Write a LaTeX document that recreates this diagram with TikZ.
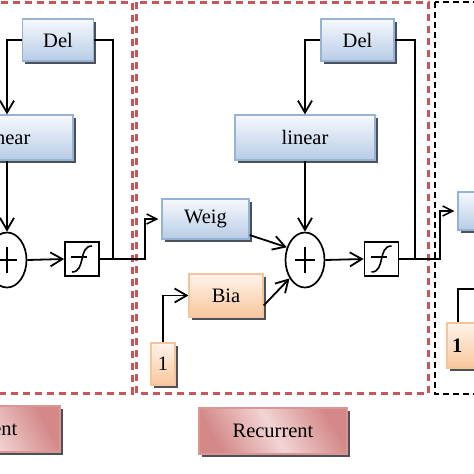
\documentclass[tikz,border=0pt]{standalone}
\usepackage{fontspec}
\setmainfont{Liberation Serif}
\usetikzlibrary{arrows.meta,shadows,shapes.geometric}
\definecolor{bluebd}{HTML}{95B3D7}
\definecolor{bluetop}{HTML}{F6F9FD}
\definecolor{bluebot}{HTML}{B8CCE6}
\definecolor{orbd}{HTML}{F5C49A}
\definecolor{ortop}{HTML}{FEF3EA}
\definecolor{orbot}{HTML}{F9C79D}
\definecolor{pinkbd}{HTML}{D99694}
\definecolor{pinklt}{HTML}{F2D4D4}
\definecolor{pinkdk}{HTML}{D48888}
\definecolor{reddash}{HTML}{C5565A}
\definecolor{shad}{HTML}{4B5059}
\begin{document}
\begin{tikzpicture}[x=1pt,y=-1pt,
  font=\fontsize{20.5}{24}\selectfont,
  shd/.style={drop shadow={shadow xshift=2.5pt,shadow yshift=-3pt,fill=shad,opacity=1}},
  bbox/.style={draw=bluebd,line width=1.2pt,top color=bluetop,bottom color=bluebot,shd,inner sep=0pt},
  obox/.style={draw=orbd,line width=1.2pt,top color=ortop,bottom color=orbot,shd,inner sep=0pt},
  pbox/.style={draw=pinkbd,line width=1.2pt,left color=pinkdk,right color=pinkdk,middle color=pinklt,shading angle=120,shd,inner sep=0pt},
  sumnode/.style={draw,ellipse,line width=1.7pt,minimum width=39pt,minimum height=55pt,inner sep=0pt},
  actnode/.style={draw,line width=1.7pt,minimum size=34pt,inner sep=0pt},
  arr/.style={line width=1.8pt,-{Straight Barb[length=12pt,width=14pt,line width=1.8pt]}},
  fb/.style={line width=1.9pt,-{Straight Barb[length=10pt,width=10pt,line width=1.6pt]},shorten >=3pt},
  thinln/.style={line width=1.5pt},
  redpanel/.style={draw=reddash,line width=3pt,dash pattern=on 7pt off 5pt},
  blkpanel/.style={draw=black,line width=1.6pt,dash pattern=on 6pt off 4pt}
]
\useasboundingbox (0,0) rectangle (474,474);
\clip (0,0) rectangle (474,474);
\fill[white] (0,0) rectangle (474,474);

% panels
\draw[redpanel] (-30,2) rectangle (132,393);
\draw[redpanel] (136,2) rectangle (428.5,393);
\draw[blkpanel] (435,2) rectangle (500,394);

% left panel
\node[bbox,minimum width=71pt,minimum height=42pt] (del1) at (58,40) {Del};
\node[bbox,minimum width=132pt,minimum height=45pt] (lin1) at (7,137.5) {linear};
\node[sumnode] (sum1) at (7,260) {};
\node[actnode] (act1) at (82,259) {};
\coordinate (j1) at (113,259);
\coordinate (k1) at (145,259);

% middle panel
\node[bbox,minimum width=73pt,minimum height=42pt] (del2) at (357.5,40) {Del};
\node[bbox,minimum width=140pt,minimum height=45pt] (lin2) at (305,137.5) {linear};
\node[sumnode] (sum2) at (305,260) {};
\node[actnode] (act2) at (381.5,259) {};
\node[bbox,minimum width=87pt,minimum height=40pt] (weig2) at (205.5,219) {Weig};
\node[obox,minimum width=74pt,minimum height=43pt] (bia2) at (226,295.5) {Bia};
\node[obox,minimum width=24pt,minimum height=42pt] (one2) at (163,364) {1};
\coordinate (j2) at (415,259);
\coordinate (k2) at (440,259);

% right panel
\node[bbox,minimum width=84pt,minimum height=38pt] (weig3) at (500,211) {Weig};
\node[obox,minimum width=34pt,minimum height=45pt,text width=24pt,align=left,inner xsep=4pt] (one3) at (464,345.5) {\textbf{1}};
\coordinate (b3) at (490,289);

% bottom labels
\node[pbox,minimum width=148pt,minimum height=46pt] (rec1) at (-14,429) {\hspace*{-18pt}Recurrent};
\node[pbox,minimum width=148pt,minimum height=46pt] (rec2) at (273,431) {Recurrent};

% symbols
\foreach \s in {sum1,sum2}{
  \draw[line width=1.5pt] ([xshift=-10pt]\s.center) -- ([xshift=10pt]\s.center);
  \draw[line width=1.5pt] ([yshift=-13pt]\s.center) -- ([yshift=13pt]\s.center);
}
\foreach \a in {act1,act2}{
  \begin{scope}[shift={(\a.center)}]
    \draw[line width=1.6pt] (-10,13) .. controls (4,13) and (-4,-13) .. (10,-13);
    \draw[line width=1.6pt] (-11,-2) -- (5,-2);
  \end{scope}
}

% connectors left
\draw[arr] (del1.west) -| (lin1.north);
\draw[arr] (lin1.south) -- (sum1.north);
\draw[arr] (sum1.east) -- (act1.west);
\draw[thinln] (del1.east) -| (j1);
\draw[fb] (act1.east) -- (k1) |- (weig2.west);

% connectors middle
\draw[arr] (del2.west) -| (lin2.north);
\draw[arr] (lin2.south) -- (sum2.north);
\draw[arr] (weig2.-20) -- (sum2.145);
\draw[arr] (bia2.-15) -- (sum2.230);
\draw[arr] (one2.north) |- (bia2.west);
\draw[arr] (sum2.east) -- (act2.west);
\draw[thinln] (del2.east) -| (j2);
\draw[fb] (act2.east) -- (k2) |- (weig3.west);

% right
\draw[thinln] ([xshift=-6pt]one3.north) |- (b3);
\end{tikzpicture}
\end{document}
